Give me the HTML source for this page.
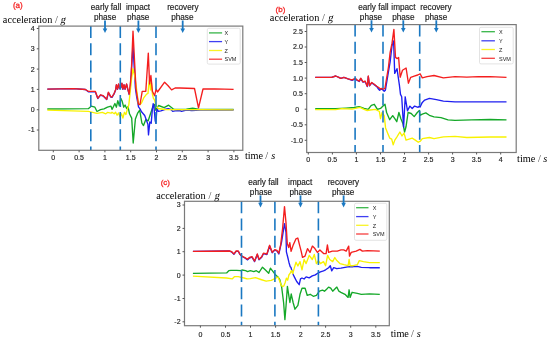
<!DOCTYPE html>
<html><head><meta charset="utf-8"><title>acceleration plots</title><style>
html,body{margin:0;padding:0;background:#fff;}
body{width:550px;height:342px;overflow:hidden;}
svg{display:block;}
.tk{font-family:"Liberation Sans",Arial,sans-serif;font-size:7px;fill:#222;stroke:#222;stroke-width:0.15px;}
.ax{font-family:"Liberation Serif","Times New Roman",serif;font-size:10.8px;fill:#000;}
.sl{fill:#444;}
.it{font-style:italic;}
.tag{font-family:"Liberation Sans",Arial,sans-serif;font-size:8px;fill:#f52828;stroke:#f52828;stroke-width:0.3px;}
.ph{font-family:"Liberation Sans",Arial,sans-serif;font-size:8.2px;fill:#1a1a1a;stroke:#1a1a1a;stroke-width:0.15px;}
.lg{font-family:"Liberation Sans",Arial,sans-serif;font-size:5.5px;fill:#222;}
</style></head>
<body><svg width="550" height="342" viewBox="0 0 550 342">
<rect width="550" height="342" fill="#fff"/>
<polyline points="47.3,109 88.3,108.7 91.2,106.2 94.9,107.2 97,111.5 100.5,109.7 104,108.9 107.5,107.1 111,106.2 112,109.4 113.5,106.5 114.9,103.5 116.4,107.2 117.8,100.6 119.3,105.7 120.8,98.4 122.2,101.4 123.7,107.2 125.1,105 126.6,108.6 128,106.5 129.5,113.8 131.7,118.1 133.2,143 135.4,118.9 137.5,113.4 139.7,110.1 141.9,123.2 143.5,125.5 145.8,119.6 148.2,120.8 150.5,113.8 152.9,106.8 154.5,104.4 155.9,110.3 156.8,108.2 158.6,105.5 164.1,107.7 168.6,105.2 172.7,108.6 174.5,109.5 180,109.5 186.4,109.1 192.7,108.2 198.2,109.1 210,109.3 233.6,109.3" fill="none" stroke="#14a828" stroke-width="1.35" stroke-linejoin="round"/>
<polyline points="47.3,89.2 73.7,88.6 85.4,89.5 88.3,91.7 95.3,91.7 97.8,98.6 100.5,95.2 103.2,96.1 106.7,99.6 108.4,92.6 110.7,97 112,97.4 114.2,93.7 115.6,90.1 116.4,85 117.5,89.4 118.6,84.3 119.6,88.6 120.8,87.9 121.9,83.5 122.9,89.4 124,85 125.1,89.4 126.6,84.3 127.8,89.4 129.2,94.5 130.4,86 133,45.9 135.4,88 136.5,96 138.5,106.9 140,108.9 141.5,111.8 144.7,115.5 147.9,124.2 148.5,134.9 149.8,122 151.2,123.2 152.4,108.9 153.2,103.7 153.9,105.9 155.2,120.8 155.9,123.2 156.8,110.3 157.3,108.6 158.2,111.4 160.9,110.9 164.5,109.5 168.2,108.6 170.9,109.5 172.7,111.4 175,110.9 180,110.5 181.4,111.4 186.4,110 191.8,110.5 200,110 233.6,110" fill="none" stroke="#1e1ef0" stroke-width="1.35" stroke-linejoin="round"/>
<polyline points="47.3,110.1 88.3,111.3 97,113.3 102.3,112.4 105.8,113.8 107.5,112.4 111,113.2 112,112.3 114.2,113.8 115.6,112.3 117.1,115.2 118.6,113 120,116.7 121.5,113.8 122.9,118.1 124.4,112.3 125.9,114.5 127.3,109.4 128.8,105 130.2,91.9 131.7,77.3 133,68.7 134.5,75 136,84.6 138.5,104.4 140,104.5 141.5,103 143.7,97.9 146.6,94.2 148,93.5 148.8,84 149.5,79.6 150.5,89.9 151.4,82.5 152.4,94.2 153.5,98.6 154.3,99.4 156,105 158,108.5 165,109.5 233.6,109.8" fill="none" stroke="#f8f200" stroke-width="1.35" stroke-linejoin="round"/>
<polyline points="47.3,89.2 73.7,88.6 85.4,89.5 88.3,91.3 95.3,91.3 97.8,98.2 100.5,94.8 103.2,95.7 106.7,99.2 108.4,92.2 110.7,96.6 112,97 114.2,93.3 115.6,89.7 116.4,84.6 117.5,89 118.6,83.9 119.6,88.2 120.8,87.5 121.9,83.1 122.9,89 124,84.6 125.1,89 126.6,83.9 127.8,89 129.2,94.1 130.2,84.6 131.2,75 133,31.1 134.5,60 136,89 138.5,104.4 140,104.5 142.2,91.3 145.8,91.3 148.3,53.1 149.6,84 150.9,75.5 152.4,91.3 153.9,94.2 154.6,95.7 156.1,89.1 157.5,92 164.6,82.2 168.1,85.7 171.6,89.9 175.1,88 180,88 194.5,88.5 198.5,107.9 203,89 215,88.8 233.6,89.3" fill="none" stroke="#f41e1e" stroke-width="1.35" stroke-linejoin="round"/>
<line x1="90.8" y1="26.1" x2="90.8" y2="150.3" stroke="#1a78c2" stroke-width="1.6" stroke-dasharray="12 5.2"/>
<line x1="120.3" y1="26.1" x2="120.3" y2="150.3" stroke="#1a78c2" stroke-width="1.6" stroke-dasharray="12 5.2"/>
<line x1="156.0" y1="26.1" x2="156.0" y2="150.3" stroke="#1a78c2" stroke-width="1.6" stroke-dasharray="12 5.2"/>
<rect x="38.8" y="26.1" width="204.0" height="124.20000000000002" fill="none" stroke="#7a7a7a" stroke-width="1.2"/>
<line x1="36.8" y1="28.5" x2="38.8" y2="28.5" stroke="#555" stroke-width="1"/>
<text x="34.6" y="30.9" class="tk" text-anchor="end">4</text>
<line x1="36.8" y1="48.8" x2="38.8" y2="48.8" stroke="#555" stroke-width="1"/>
<text x="34.6" y="51.2" class="tk" text-anchor="end">3</text>
<line x1="36.8" y1="69.1" x2="38.8" y2="69.1" stroke="#555" stroke-width="1"/>
<text x="34.6" y="71.5" class="tk" text-anchor="end">2</text>
<line x1="36.8" y1="89.4" x2="38.8" y2="89.4" stroke="#555" stroke-width="1"/>
<text x="34.6" y="91.8" class="tk" text-anchor="end">1</text>
<line x1="36.8" y1="109.7" x2="38.8" y2="109.7" stroke="#555" stroke-width="1"/>
<text x="34.6" y="112.1" class="tk" text-anchor="end">0</text>
<line x1="36.8" y1="130.0" x2="38.8" y2="130.0" stroke="#555" stroke-width="1"/>
<text x="34.6" y="132.4" class="tk" text-anchor="end">-1</text>
<line x1="53.3" y1="150.3" x2="53.3" y2="152.3" stroke="#555" stroke-width="1"/>
<text x="53.3" y="159.5" class="tk" text-anchor="middle">0</text>
<line x1="79.1" y1="150.3" x2="79.1" y2="152.3" stroke="#555" stroke-width="1"/>
<text x="79.1" y="159.5" class="tk" text-anchor="middle">0.5</text>
<line x1="104.9" y1="150.3" x2="104.9" y2="152.3" stroke="#555" stroke-width="1"/>
<text x="104.9" y="159.5" class="tk" text-anchor="middle">1</text>
<line x1="130.7" y1="150.3" x2="130.7" y2="152.3" stroke="#555" stroke-width="1"/>
<text x="130.7" y="159.5" class="tk" text-anchor="middle">1.5</text>
<line x1="156.5" y1="150.3" x2="156.5" y2="152.3" stroke="#555" stroke-width="1"/>
<text x="156.5" y="159.5" class="tk" text-anchor="middle">2</text>
<line x1="182.3" y1="150.3" x2="182.3" y2="152.3" stroke="#555" stroke-width="1"/>
<text x="182.3" y="159.5" class="tk" text-anchor="middle">2.5</text>
<line x1="208.1" y1="150.3" x2="208.1" y2="152.3" stroke="#555" stroke-width="1"/>
<text x="208.1" y="159.5" class="tk" text-anchor="middle">3</text>
<line x1="233.9" y1="150.3" x2="233.9" y2="152.3" stroke="#555" stroke-width="1"/>
<text x="233.9" y="159.5" class="tk" text-anchor="middle">3.5</text>
<text transform="translate(2.84,22.5) scale(0.95,1)" class="ax">acceleration</text>
<text transform="translate(54.90,22.5) scale(0.95,1)" class="ax sl">/</text>
<text transform="translate(60.34,22.5) skewX(-12) scale(0.95,1)" class="ax">g</text>
<text transform="translate(244.90,158.8) scale(0.95,1)" class="ax">time</text>
<text transform="translate(265.30,158.8) scale(0.95,1)" class="ax sl">/</text>
<text transform="translate(271.15,158.8) scale(0.95,1)" class="ax it">s</text>
<text transform="translate(12.90,8.0) rotate(0.05)" class="tag">(a)</text>
<text x="106.05" y="10.0" class="ph" text-anchor="middle">early fall</text>
<text x="105.1" y="19.6" class="ph" text-anchor="middle">phase</text>
<text x="138.05" y="10.0" class="ph" text-anchor="middle">impact</text>
<text x="138.2" y="19.6" class="ph" text-anchor="middle">phase</text>
<text x="182.85" y="10.0" class="ph" text-anchor="middle">recovery</text>
<text x="182.35" y="19.6" class="ph" text-anchor="middle">phase</text>
<line x1="105" y1="20.5" x2="105" y2="29.6" stroke="#1a78c2" stroke-width="1.8"/>
<path d="M102.7,28.5 L107.3,28.5 L105,33.1 Z" fill="#1a78c2"/>
<line x1="138.4" y1="20.5" x2="138.4" y2="29.6" stroke="#1a78c2" stroke-width="1.8"/>
<path d="M136.1,28.5 L140.70000000000002,28.5 L138.4,33.1 Z" fill="#1a78c2"/>
<line x1="182.7" y1="20.5" x2="182.7" y2="29.6" stroke="#1a78c2" stroke-width="1.8"/>
<path d="M180.39999999999998,28.5 L185.0,28.5 L182.7,33.1 Z" fill="#1a78c2"/>
<rect x="207.3" y="28.3" width="32.89999999999998" height="35.8" rx="1.5" fill="#fff" fill-opacity="0.85" stroke="#dcdcdc" stroke-width="0.8"/>
<line x1="209" y1="32.9" x2="222.1" y2="32.9" stroke="#14a828" stroke-width="1.3" opacity="0.85"/>
<text x="224.5" y="35.1" class="lg">X</text>
<line x1="209" y1="41.6" x2="222.1" y2="41.6" stroke="#1e1ef0" stroke-width="1.3" opacity="0.85"/>
<text x="224.5" y="43.8" class="lg">Y</text>
<line x1="209" y1="50.5" x2="222.1" y2="50.5" stroke="#f8f200" stroke-width="1.3" opacity="0.85"/>
<text x="224.5" y="52.7" class="lg">Z</text>
<line x1="209" y1="59.2" x2="222.1" y2="59.2" stroke="#f41e1e" stroke-width="1.3" opacity="0.85"/>
<text x="224.5" y="61.4" class="lg">SVM</text>
<polyline points="315.2,108.7 335.7,108.7 346,108.1 354.1,107.5 359.3,106.7 364.1,108.4 368.2,109.4 371.3,105.3 374.3,104.3 377.4,109.4 380.5,108.4 382.5,106.4 385,104.3 386.6,112.5 389.7,119.7 392.7,115.6 394.8,118.7 396.8,121.7 398.9,112.5 400.9,118.7 403,123.8 404.6,132 406,126.8 408.1,112.5 411.2,113.5 414.2,116.6 417.3,112.5 419.4,110.5 420,115.3 422.3,114.1 425.8,112.9 429.4,115.3 434,116.9 441,117.6 448,119.9 455,120.4 471.4,119.9 490.1,119.5 506.5,119.9" fill="none" stroke="#14a828" stroke-width="1.35" stroke-linejoin="round"/>
<polyline points="315.2,77.4 331.6,77.4 335.7,76 338.8,77.4 340.8,78.4 343.9,77.4 348,78.8 352.1,80.3 355.2,78.8 357.2,80.4 359.3,81.5 360.7,78.6 363,82.2 365.1,81.5 367.3,86.6 368.3,76.4 369.5,85.9 371.7,82.9 373.9,84.4 376.8,86.6 378.5,89 379.6,90.2 381.9,89 384.2,91.3 385.4,90.2 388.5,71.5 390.1,62.1 392,45.7 393.6,41 394.7,73.4 397,68.7 399.4,85.1 400.5,94.4 401.7,96.8 403.6,127.2 405.2,96.8 407.5,110.8 409.9,106.1 412.2,108.5 414.6,106.1 418.1,107.3 419.5,106 420,107.1 422.3,102.4 424.7,100.1 429.4,98.4 436.4,99.6 443.4,101.2 455,101.9 506.5,101.9" fill="none" stroke="#1e1ef0" stroke-width="1.35" stroke-linejoin="round"/>
<polyline points="315.2,109.6 335.7,109.6 341.9,108.7 352.1,109.1 360,107.4 364.1,109.4 367.2,110.5 370.2,110 375.4,109.4 379.4,111.5 380.5,118.7 382.1,112.5 384.2,115.6 385.6,127.9 387.6,133 389.7,138.1 391.7,139.1 393.2,144.9 394.8,140.1 396.8,137.1 399.9,132 402,136 404,133 406,140.1 409.1,139.1 412.2,138.1 415.3,140.1 418.3,142.2 420.4,141.2 422.3,138.6 429.4,137.5 434,138.6 443.4,136.8 455,136.3 466.8,137.5 490.1,137 506.5,137" fill="none" stroke="#f8f200" stroke-width="1.35" stroke-linejoin="round"/>
<polyline points="315.2,77.4 331.6,77.4 335.7,76 338.8,77.4 340.8,78.4 343.9,77.4 348,78.8 352.1,79.9 355.2,78.4 357.2,80 359.3,81.1 360.7,78.2 363,81.8 365.1,81.1 367.3,86.2 368.3,76 369.5,85.5 371.7,82.5 373.9,84 376.8,86.2 379,87.7 380.5,89.1 381.9,88.4 383.4,89.1 384.9,88.4 385.4,85.5 388.5,66.8 390.1,52.7 392,43.4 393.9,29.4 395.5,57.4 397.2,58.6 398.6,57.4 400.2,77.3 402.5,70.3 406.1,68 408.4,83.2 410.7,77.3 414.2,76.1 417.7,75 420.1,73.8 422.3,77.9 427,76.7 434,75.5 443.4,77.9 455,76.7 466.8,77.2 478.4,76.7 490.1,76.7 506.5,77.4" fill="none" stroke="#f41e1e" stroke-width="1.35" stroke-linejoin="round"/>
<line x1="355.1" y1="24.6" x2="355.1" y2="152.5" stroke="#1a78c2" stroke-width="1.6" stroke-dasharray="12 5.2"/>
<line x1="383.0" y1="24.6" x2="383.0" y2="152.5" stroke="#1a78c2" stroke-width="1.6" stroke-dasharray="12 5.2"/>
<line x1="419.7" y1="24.6" x2="419.7" y2="152.5" stroke="#1a78c2" stroke-width="1.6" stroke-dasharray="12 5.2"/>
<rect x="306.7" y="24.6" width="209.50000000000006" height="127.9" fill="none" stroke="#7a7a7a" stroke-width="1.2"/>
<line x1="304.7" y1="31.5" x2="306.7" y2="31.5" stroke="#555" stroke-width="1"/>
<text x="302.8" y="33.9" class="tk" text-anchor="end">2.5</text>
<line x1="304.7" y1="47.0" x2="306.7" y2="47.0" stroke="#555" stroke-width="1"/>
<text x="302.8" y="49.4" class="tk" text-anchor="end">2.0</text>
<line x1="304.7" y1="62.5" x2="306.7" y2="62.5" stroke="#555" stroke-width="1"/>
<text x="302.8" y="65.0" class="tk" text-anchor="end">1.5</text>
<line x1="304.7" y1="78.1" x2="306.7" y2="78.1" stroke="#555" stroke-width="1"/>
<text x="302.8" y="80.5" class="tk" text-anchor="end">1.0</text>
<line x1="304.7" y1="93.7" x2="306.7" y2="93.7" stroke="#555" stroke-width="1"/>
<text x="302.8" y="96.1" class="tk" text-anchor="end">0.5</text>
<line x1="304.7" y1="109.2" x2="306.7" y2="109.2" stroke="#555" stroke-width="1"/>
<text x="297.3" y="111.6" class="tk" text-anchor="middle">0</text>
<line x1="304.7" y1="124.8" x2="306.7" y2="124.8" stroke="#555" stroke-width="1"/>
<text x="302.8" y="127.2" class="tk" text-anchor="end">-0.5</text>
<line x1="304.7" y1="140.3" x2="306.7" y2="140.3" stroke="#555" stroke-width="1"/>
<text x="302.8" y="142.7" class="tk" text-anchor="end">-1.0</text>
<line x1="308.3" y1="152.5" x2="308.3" y2="154.5" stroke="#555" stroke-width="1"/>
<text x="308.3" y="162.0" class="tk" text-anchor="middle">0</text>
<line x1="332.4" y1="152.5" x2="332.4" y2="154.5" stroke="#555" stroke-width="1"/>
<text x="332.4" y="162.0" class="tk" text-anchor="middle">0.5</text>
<line x1="356.4" y1="152.5" x2="356.4" y2="154.5" stroke="#555" stroke-width="1"/>
<text x="356.4" y="162.0" class="tk" text-anchor="middle">1</text>
<line x1="380.5" y1="152.5" x2="380.5" y2="154.5" stroke="#555" stroke-width="1"/>
<text x="380.5" y="162.0" class="tk" text-anchor="middle">1.5</text>
<line x1="404.5" y1="152.5" x2="404.5" y2="154.5" stroke="#555" stroke-width="1"/>
<text x="404.5" y="162.0" class="tk" text-anchor="middle">2</text>
<line x1="428.6" y1="152.5" x2="428.6" y2="154.5" stroke="#555" stroke-width="1"/>
<text x="428.6" y="162.0" class="tk" text-anchor="middle">2.5</text>
<line x1="452.6" y1="152.5" x2="452.6" y2="154.5" stroke="#555" stroke-width="1"/>
<text x="452.6" y="162.0" class="tk" text-anchor="middle">3</text>
<line x1="476.6" y1="152.5" x2="476.6" y2="154.5" stroke="#555" stroke-width="1"/>
<text x="476.6" y="162.0" class="tk" text-anchor="middle">3.5</text>
<line x1="500.7" y1="152.5" x2="500.7" y2="154.5" stroke="#555" stroke-width="1"/>
<text x="500.7" y="162.0" class="tk" text-anchor="middle">4</text>
<text transform="translate(269.84,20.9) scale(0.95,1)" class="ax">acceleration</text>
<text transform="translate(322.10,20.9) scale(0.95,1)" class="ax sl">/</text>
<text transform="translate(327.84,20.9) skewX(-12) scale(0.95,1)" class="ax">g</text>
<text transform="translate(517.10,161.5) scale(0.95,1)" class="ax">time</text>
<text transform="translate(537.90,161.5) scale(0.95,1)" class="ax sl">/</text>
<text transform="translate(543.25,161.5) scale(0.95,1)" class="ax it">s</text>
<text transform="translate(275.54,11.8)" class="tag">(b)</text>
<text x="373.45" y="9.6" class="ph" text-anchor="middle">early fall</text>
<text x="371" y="20.0" class="ph" text-anchor="middle">phase</text>
<text x="403.4" y="9.6" class="ph" text-anchor="middle">impact</text>
<text x="403.3" y="20.0" class="ph" text-anchor="middle">phase</text>
<text x="436" y="9.6" class="ph" text-anchor="middle">recovery</text>
<text x="436.05" y="20.0" class="ph" text-anchor="middle">phase</text>
<line x1="371.5" y1="20.3" x2="371.5" y2="29.0" stroke="#1a78c2" stroke-width="1.8"/>
<path d="M369.2,27.9 L373.8,27.9 L371.5,32.5 Z" fill="#1a78c2"/>
<line x1="403.3" y1="20.3" x2="403.3" y2="29.0" stroke="#1a78c2" stroke-width="1.8"/>
<path d="M401.0,27.9 L405.6,27.9 L403.3,32.5 Z" fill="#1a78c2"/>
<line x1="436.3" y1="20.3" x2="436.3" y2="29.0" stroke="#1a78c2" stroke-width="1.8"/>
<path d="M434.0,27.9 L438.6,27.9 L436.3,32.5 Z" fill="#1a78c2"/>
<rect x="479.5" y="27.3" width="33.700000000000045" height="36.599999999999994" rx="1.5" fill="#fff" fill-opacity="0.85" stroke="#dcdcdc" stroke-width="0.8"/>
<line x1="481.4" y1="31.7" x2="494.9" y2="31.7" stroke="#14a828" stroke-width="1.3" opacity="0.85"/>
<text x="499" y="33.9" class="lg">X</text>
<line x1="481.4" y1="40.8" x2="494.9" y2="40.8" stroke="#1e1ef0" stroke-width="1.3" opacity="0.85"/>
<text x="499" y="43.0" class="lg">Y</text>
<line x1="481.4" y1="49.5" x2="494.9" y2="49.5" stroke="#f8f200" stroke-width="1.3" opacity="0.85"/>
<text x="499" y="51.7" class="lg">Z</text>
<line x1="481.4" y1="58.3" x2="494.9" y2="58.3" stroke="#f41e1e" stroke-width="1.3" opacity="0.85"/>
<text x="499" y="60.5" class="lg">SVM</text>
<polyline points="192.9,273.4 226.6,272.9 228.8,270.7 231,270.3 236.8,270.4 240.5,270.7 242,270 245.6,270.7 247.6,271.6 250.3,270.7 253.8,271.6 256.4,270.7 259,272.5 262.5,267.2 265.2,269.8 268.7,273.3 270.4,268.1 273.1,271.6 275.7,275.1 277.9,276.9 279.8,279.7 281.7,287.3 283.6,302.5 284.9,319.6 286,306.3 287.4,286.4 288.7,294.9 289.9,302.5 291.2,294 293.1,302.5 295,309.2 297.9,305.4 300,294.3 302,288.2 305.1,288.2 307.2,295.3 310.2,294.3 313.3,296.3 316.4,295.3 319.4,291.2 322.5,290.2 324.5,291.2 326.6,289.2 328.6,287.1 330.7,288.2 332.7,291.2 336.8,287.1 338.9,291.2 340.9,292.3 345,294.3 348.1,297.4 349.1,289.8 350.1,297.4 352.1,292.3 357.3,293.3 361.3,294.3 369.5,293.9 379.8,294.3" fill="none" stroke="#14a828" stroke-width="1.35" stroke-linejoin="round"/>
<polyline points="192.9,251.4 229.5,251 231.7,252.1 233.9,254.3 236.1,251.4 238.3,251.4 239.8,254.3 242,256.5 244.9,258 247.6,259.9 249.4,258 252,257.2 254.6,261.6 257.3,254.5 259,259.8 261.7,257.2 263.4,253.7 266.9,254.5 269.6,246 272.2,252.8 274.8,250.1 276.9,251 278.8,254 281.6,241.8 284.5,223.7 286,232.3 286.4,251.9 287.7,257 288.9,262.2 290.2,266.7 290.9,267.3 292.8,273.7 294.7,277.6 296.7,281.5 299.2,284.7 300.5,278.9 302,278 304.1,279 306.1,276.9 309.2,277.9 312.3,275.9 315.3,274.9 318.4,272.8 320.4,271.8 323.5,270.8 325.6,269.8 328.6,267.7 330.3,265.7 331.7,270.8 333.7,267.7 336.8,268.7 340.9,268.1 345,267.3 349.1,266.7 353.2,266.7 357.3,266.3 361.3,267.3 369.5,267.7 379.8,267.7" fill="none" stroke="#1e1ef0" stroke-width="1.35" stroke-linejoin="round"/>
<polyline points="192.9,276.1 226.6,278 232.4,278.8 234.6,276.6 238.3,276.6 241.2,277.3 244.1,278 247.1,278.8 250.3,278.6 255.5,277.7 260.8,279.5 266.1,281.2 271.3,280.4 274.8,278.6 278,277 279.9,281.5 281.2,285.3 282.5,286.6 283.8,286 285.1,282.7 286.4,278.2 287.7,280.2 288.9,275 290.2,273.1 291.5,270.5 292.8,273.7 294.1,268.6 296,262.2 297.9,266 299.2,263.4 300,261.6 302,269.8 304.1,259.5 306.1,263.6 309.2,255.4 312.3,259.5 314.3,254.4 316.4,263.6 318.4,260.6 320.4,263.6 323.5,261.6 325.6,265.7 327.6,255.4 329.7,259.5 332.7,261.6 334.8,257.5 336.8,260.6 339.9,263.6 344,264.7 348.1,265.7 349.1,259.5 350.1,265.7 353.2,265.7 357.3,264.7 359.3,260.6 363.4,261.6 369.5,262.6 379.8,262.6" fill="none" stroke="#f8f200" stroke-width="1.35" stroke-linejoin="round"/>
<polyline points="192.9,251.4 229.5,251 231.7,251.7 233.9,253.9 236.1,251 238.3,251 239.8,253.9 242,256.1 244.9,257.6 247.6,259.3 249.4,257.5 252,256.7 254.6,261.1 257.3,254 259,259.3 261.7,256.7 263.4,253.2 266.9,254 269.6,245.3 272.2,252.3 274.8,249.6 276.9,250.3 278.8,253.2 280.7,244.6 282.6,228.5 284.5,206.6 286,222.8 287.3,243.7 288.7,247.5 289.8,242.7 291.1,251.3 293,245.6 295.9,238.9 297.8,238 299.7,245.6 301.2,251.3 302.5,257.3 305,256.1 307.5,248.6 310,252.4 312.4,246.1 314.9,248.6 317.4,252.4 319.9,249.9 323.6,253.6 326.1,253.6 327.4,244.9 328.6,252.4 332.3,251.1 337.3,251.1 341,249.9 343.7,249.9 346.2,251.1 348.7,246.1 349.5,256.1 351.2,252.4 356.2,251.1 359.9,249.4 362.4,251.1 367.4,250.6 379.8,251.1" fill="none" stroke="#f41e1e" stroke-width="1.35" stroke-linejoin="round"/>
<line x1="241.5" y1="201.3" x2="241.5" y2="325.7" stroke="#1a78c2" stroke-width="1.6" stroke-dasharray="12 5.2"/>
<line x1="274.9" y1="201.3" x2="274.9" y2="325.7" stroke="#1a78c2" stroke-width="1.6" stroke-dasharray="12 5.2"/>
<line x1="318.4" y1="201.3" x2="318.4" y2="325.7" stroke="#1a78c2" stroke-width="1.6" stroke-dasharray="12 5.2"/>
<rect x="184.5" y="201.3" width="204.8" height="124.39999999999998" fill="none" stroke="#7a7a7a" stroke-width="1.2"/>
<line x1="182.5" y1="205.0" x2="184.5" y2="205.0" stroke="#555" stroke-width="1"/>
<text x="180.6" y="207.4" class="tk" text-anchor="end">3</text>
<line x1="182.5" y1="228.4" x2="184.5" y2="228.4" stroke="#555" stroke-width="1"/>
<text x="180.6" y="230.8" class="tk" text-anchor="end">2</text>
<line x1="182.5" y1="251.7" x2="184.5" y2="251.7" stroke="#555" stroke-width="1"/>
<text x="180.6" y="254.1" class="tk" text-anchor="end">1</text>
<line x1="182.5" y1="275.1" x2="184.5" y2="275.1" stroke="#555" stroke-width="1"/>
<text x="180.6" y="277.5" class="tk" text-anchor="end">0</text>
<line x1="182.5" y1="298.5" x2="184.5" y2="298.5" stroke="#555" stroke-width="1"/>
<text x="180.6" y="300.9" class="tk" text-anchor="end">-1</text>
<line x1="182.5" y1="321.8" x2="184.5" y2="321.8" stroke="#555" stroke-width="1"/>
<text x="180.6" y="324.2" class="tk" text-anchor="end">-2</text>
<line x1="200.4" y1="325.7" x2="200.4" y2="327.7" stroke="#555" stroke-width="1"/>
<text x="200.4" y="336.9" class="tk" text-anchor="middle">0</text>
<line x1="225.5" y1="325.7" x2="225.5" y2="327.7" stroke="#555" stroke-width="1"/>
<text x="225.5" y="336.9" class="tk" text-anchor="middle">0.5</text>
<line x1="250.5" y1="325.7" x2="250.5" y2="327.7" stroke="#555" stroke-width="1"/>
<text x="250.5" y="336.9" class="tk" text-anchor="middle">1</text>
<line x1="275.6" y1="325.7" x2="275.6" y2="327.7" stroke="#555" stroke-width="1"/>
<text x="275.6" y="336.9" class="tk" text-anchor="middle">1.5</text>
<line x1="300.6" y1="325.7" x2="300.6" y2="327.7" stroke="#555" stroke-width="1"/>
<text x="300.6" y="336.9" class="tk" text-anchor="middle">2</text>
<line x1="325.6" y1="325.7" x2="325.6" y2="327.7" stroke="#555" stroke-width="1"/>
<text x="325.6" y="336.9" class="tk" text-anchor="middle">2.5</text>
<line x1="350.7" y1="325.7" x2="350.7" y2="327.7" stroke="#555" stroke-width="1"/>
<text x="350.7" y="336.9" class="tk" text-anchor="middle">3</text>
<line x1="375.8" y1="325.7" x2="375.8" y2="327.7" stroke="#555" stroke-width="1"/>
<text x="375.8" y="336.9" class="tk" text-anchor="middle">3.5</text>
<text transform="translate(156.14,198.5) scale(0.95,1)" class="ax">acceleration</text>
<text transform="translate(208.60,198.5) scale(0.95,1)" class="ax sl">/</text>
<text transform="translate(214.34,198.5) skewX(-12) scale(0.95,1)" class="ax">g</text>
<text transform="translate(390.70,337.4) scale(0.95,1)" class="ax">time</text>
<text transform="translate(411.10,337.4) scale(0.95,1)" class="ax sl">/</text>
<text transform="translate(416.75,337.4) scale(0.95,1)" class="ax it">s</text>
<text transform="translate(160.67,185)" class="tag">(c)</text>
<text x="263.45" y="184.5" class="ph" text-anchor="middle">early fall</text>
<text x="261" y="195.1" class="ph" text-anchor="middle">phase</text>
<text x="300.15" y="184.5" class="ph" text-anchor="middle">impact</text>
<text x="300.55" y="195.1" class="ph" text-anchor="middle">phase</text>
<text x="343.35" y="184.5" class="ph" text-anchor="middle">recovery</text>
<text x="343.15" y="195.1" class="ph" text-anchor="middle">phase</text>
<line x1="260.5" y1="195.4" x2="260.5" y2="203.9" stroke="#1a78c2" stroke-width="1.8"/>
<path d="M258.2,202.8 L262.8,202.8 L260.5,207.4 Z" fill="#1a78c2"/>
<line x1="300.5" y1="195.4" x2="300.5" y2="203.9" stroke="#1a78c2" stroke-width="1.8"/>
<path d="M298.2,202.8 L302.8,202.8 L300.5,207.4 Z" fill="#1a78c2"/>
<line x1="343.6" y1="195.4" x2="343.6" y2="203.9" stroke="#1a78c2" stroke-width="1.8"/>
<path d="M341.3,202.8 L345.90000000000003,202.8 L343.6,207.4 Z" fill="#1a78c2"/>
<rect x="354.5" y="203.3" width="32.30000000000001" height="37.0" rx="1.5" fill="#fff" fill-opacity="0.85" stroke="#dcdcdc" stroke-width="0.8"/>
<line x1="356.1" y1="207.7" x2="368.5" y2="207.7" stroke="#14a828" stroke-width="1.3" opacity="0.85"/>
<text x="372.7" y="209.9" class="lg">X</text>
<line x1="356.1" y1="216.6" x2="368.5" y2="216.6" stroke="#1e1ef0" stroke-width="1.3" opacity="0.85"/>
<text x="372.7" y="218.8" class="lg">Y</text>
<line x1="356.1" y1="225.3" x2="368.5" y2="225.3" stroke="#f8f200" stroke-width="1.3" opacity="0.85"/>
<text x="372.7" y="227.5" class="lg">Z</text>
<line x1="356.1" y1="234" x2="368.5" y2="234" stroke="#f41e1e" stroke-width="1.3" opacity="0.85"/>
<text x="372.7" y="236.2" class="lg">SVM</text>
</svg></body></html>
